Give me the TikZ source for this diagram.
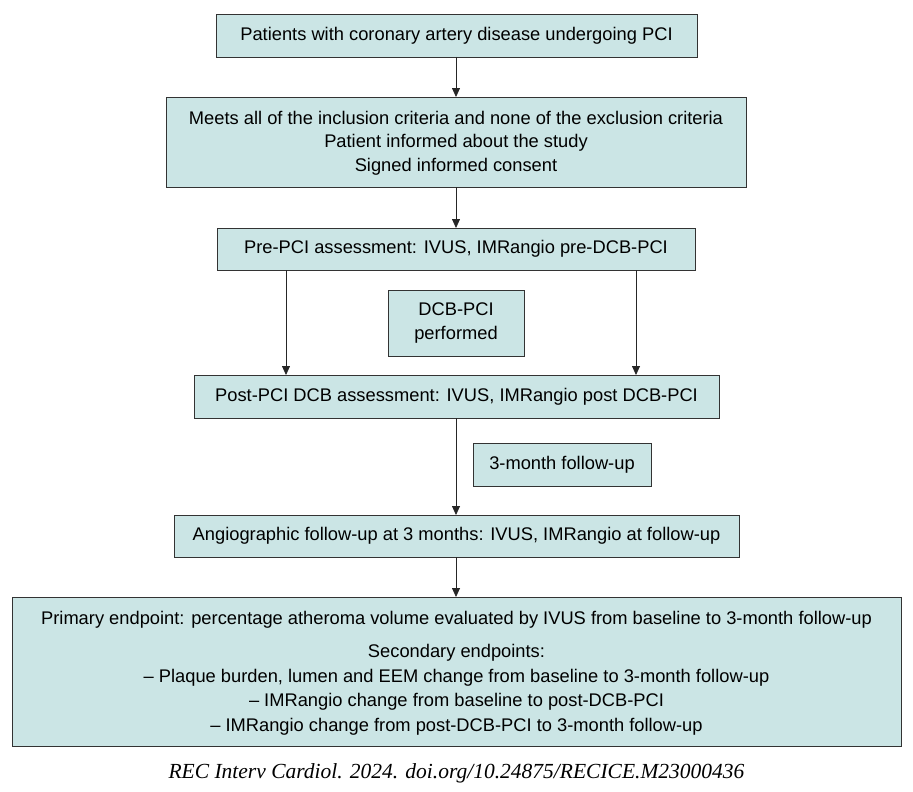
\documentclass[tikz,border=0pt]{standalone}
\usepackage{fontspec}
\setmainfont{Liberation Sans}
\newfontfamily\capfont{Liberation Serif}
\usetikzlibrary{arrows.meta}
\definecolor{boxfill}{HTML}{CBE5E5}
\definecolor{boxline}{HTML}{333333}
\begin{document}
\begin{tikzpicture}[x=1pt,y=-1pt,
  bx/.style={draw=boxline,fill=boxfill,line width=0.9pt},
  txt/.style={font=\fontsize{18.3}{23.5}\selectfont,align=center,inner sep=0pt},
  arr/.style={-{Triangle[length=9pt,width=8pt]},line width=0.8pt,draw=black!85}]
\useasboundingbox (0,0) rectangle (913,792);
\draw[bx] (216,14) rectangle (697,57);
\node[txt] (t1) at (456.5,36) {Patients with coronary artery disease undergoing PCI};
\draw[bx] (166,97) rectangle (746,187);
\node[txt] (t2) at (456,143) {Meets all of the inclusion criteria and none of the exclusion criteria\\Patient informed about the study\\Signed informed consent};
\draw[bx] (217,228) rectangle (695,270);
\node[txt] (t3) at (456,249) {Pre-PCI assessment: IVUS, IMRangio pre-DCB-PCI};
\draw[bx] (388,290) rectangle (524,356);
\node[txt] (t4) at (456,323) {DCB-PCI\\performed};
\draw[bx] (194,375) rectangle (719,418);
\node[txt] (t5) at (456.5,396.5) {Post-PCI DCB assessment: IVUS, IMRangio post DCB-PCI};
\draw[bx] (473,443) rectangle (651,486);
\node[txt] (t6) at (562,464.5) {3-month follow-up};
\draw[bx] (174,515) rectangle (739,557);
\node[txt] (t7) at (456.5,536) {Angiographic follow-up at 3 months: IVUS, IMRangio at follow-up};
\draw[bx] (12,597) rectangle (901,746);
\node[txt] (t8) at (456.5,620) {Primary endpoint: percentage atheroma volume evaluated by IVUS from baseline to 3-month follow-up};
\node[txt,font=\fontsize{18.3}{24.5}\selectfont] (t9) at (456.5,690) {Secondary endpoints:\\– Plaque burden, lumen and EEM change from baseline to 3-month follow-up\\– IMRangio change from baseline to post-DCB-PCI\\– IMRangio change from post-DCB-PCI to 3-month follow-up};
\node[font=\capfont\itshape\fontsize{21.5}{24}\selectfont,inner sep=0pt] (cap) at (456.5,773) {REC Interv Cardiol. 2024. doi.org/10.24875/RECICE.M23000436};
\coordinate (a1) at (456,57); \coordinate (b1) at (456,97);
\coordinate (a2) at (456,187); \coordinate (b2) at (456,228);
\coordinate (a3) at (286,270); \coordinate (b3) at (286,375);
\coordinate (a4) at (636,270); \coordinate (b4) at (636,375);
\coordinate (a5) at (456,418); \coordinate (b5) at (456,515);
\coordinate (a6) at (456,557); \coordinate (b6) at (456,597);
\foreach \i in {1,...,6} \draw[arr] (a\i) -- (b\i);
\end{tikzpicture}
\end{document}
